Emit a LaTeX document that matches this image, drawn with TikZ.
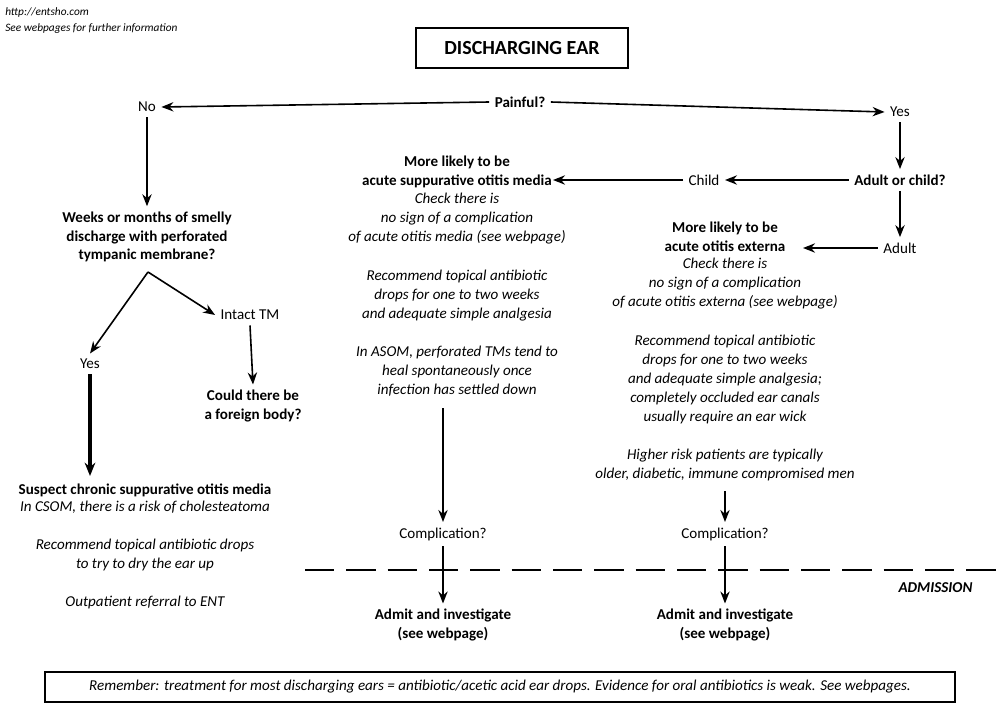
\documentclass[tikz,border=0pt]{standalone}
\usepackage{fontspec}
\setmainfont{Carlito}
\usetikzlibrary{arrows.meta}
\begin{document}
\begin{tikzpicture}[x=0.75pt,y=-0.75pt,
  t/.style={font=\fontsize{11.3}{13.5}\selectfont,inner sep=4pt,align=center},
  b/.style={t,font=\fontsize{11.3}{14}\selectfont\bfseries},
  it/.style={t,inner sep=1pt,font=\fontsize{11.3}{14.3}\selectfont\itshape},
  ar/.style={line width=1.2pt,-{Stealth[length=9pt,width=7pt]}},
  ln/.style={line width=1.2pt}]
\useasboundingbox (0,0) rectangle (1000,706);
\fill[white] (0,0) rectangle (1000,706);
\node[anchor=west,font=\fontsize{8.5}{10}\selectfont\itshape,inner sep=0] (u1) at (5,12) {http://entsho.com};
\node[anchor=west,font=\fontsize{8.5}{10}\selectfont\itshape,inner sep=0] (u2) at (5,29) {See webpages for further information};
\node[draw,line width=0.8pt,minimum width=212*0.75pt,minimum height=40*0.75pt,font=\fontsize{15}{18}\selectfont\bfseries] (title) at (522,48) {DISCHARGING EAR};
\node[b] (pain) at (520,102) {Painful?};
\node[t] (no) at (147,107) {No};
\node[t] (yes) at (900,112) {Yes};
\draw[ar] (pain.west) -- (no.east);
\draw[ar] (pain.east) -- (yes.west);
\node[b] (aoc) at (900,180) {Adult or child?};
\draw[ar] (yes.south) -- (aoc.north);
\node[t] (child) at (704,180) {Child};
\draw[ar] (aoc.west) -- (child.east);
\node[b,inner sep=1pt] (mlA) at (457,172) {More likely to be\\acute suppurative otitis media};
\coordinate (mlAe) at (553,180);
\draw[ar] (child.west) -- (mlAe);
\node[it,anchor=north] (ckA) at (457,191) {Check there is\\no sign of a complication\\of acute otitis media (see webpage)};
\node[it,anchor=north] (rcA) at (457,268) {Recommend topical antibiotic\\drops for one to two weeks\\and adequate simple analgesia};
\node[it,anchor=north] (asA) at (457,344) {In ASOM, perforated TMs tend to\\heal spontaneously once\\infection has settled down};
\node[t] (adult) at (900,248) {Adult};
\draw[ar] (aoc.south) -- (adult.north);
\node[b,inner sep=1pt] (mlE) at (725,237) {More likely to be\\acute otitis externa};
\coordinate (mlEe) at (803,248);
\draw[ar] (adult.west) -- (mlEe);
\node[it,anchor=north] (ckE) at (725,256) {Check there is\\no sign of a complication\\of acute otitis externa (see webpage)};
\node[it,anchor=north] (rcE) at (725,333) {Recommend topical antibiotic\\drops for one to two weeks\\and adequate simple analgesia;\\completely occluded ear canals\\usually require an ear wick};
\node[it,anchor=north] (hr) at (725,447) {Higher risk patients are typically\\older, diabetic, immune compromised men};
\node[t] (cA) at (443,534) {Complication?};
\node[t] (cE) at (725,534) {Complication?};
\coordinate (aA) at (443,408);
\coordinate (aE) at (725,491);
\draw[ar] (aA) -- (cA.north);
\draw[ar] (aE) -- (cE.north);
\draw[line width=2pt,dash pattern=on 22pt off 9pt] (305,570) -- (1000,570);
\node[t,font=\fontsize{11.3}{13.5}\selectfont\bfseries\itshape,anchor=east] (adm) at (978,588) {ADMISSION};
\node[b] (adA) at (443,625) {Admit and investigate\\(see webpage)};
\node[b] (adE) at (725,625) {Admit and investigate\\(see webpage)};
\draw[ar] (cA.south) -- (adA.north);
\draw[ar] (cE.south) -- (adE.north);
\node[b] (wk) at (147,237) {Weeks or months of smelly\\discharge with perforated\\tympanic membrane?};
\draw[ar] (no.south) -- (wk.north);
\coordinate (br) at (148,272);
\node[t] (y2) at (90,364) {Yes};
\node[t] (itm) at (250,315) {Intact TM};
\draw[ar] (br) -- (y2.north);
\draw[ar] (br) -- (itm.west);
\node[b] (fb) at (253,406) {Could there be\\a foreign body?};
\draw[ar] (itm.south) -- (fb.north);
\node[b] (cs) at (145,490) {Suspect chronic suppurative otitis media};
\coordinate (csN) at (90,476);
\draw[line width=2.4pt,-{Stealth[length=10pt,width=8pt]}] (y2.south) -- (csN);
\node[it,anchor=north] (cs1) at (145,499) {In CSOM, there is a risk of cholesteatoma};
\node[it,anchor=north] (cs2) at (145,537) {Recommend topical antibiotic drops\\to try to dry the ear up};
\node[it,anchor=north] (cs3) at (145,594) {Outpatient referral to ENT};
\node[draw,line width=0.8pt,minimum width=910*0.75pt,minimum height=30*0.75pt,font=\fontsize{11.3}{13.5}\selectfont\itshape] (rem) at (500,687) {Remember: treatment for most discharging ears = antibiotic/acetic acid ear drops. Evidence for oral antibiotics is weak. See webpages.};
\end{tikzpicture}
\end{document}
